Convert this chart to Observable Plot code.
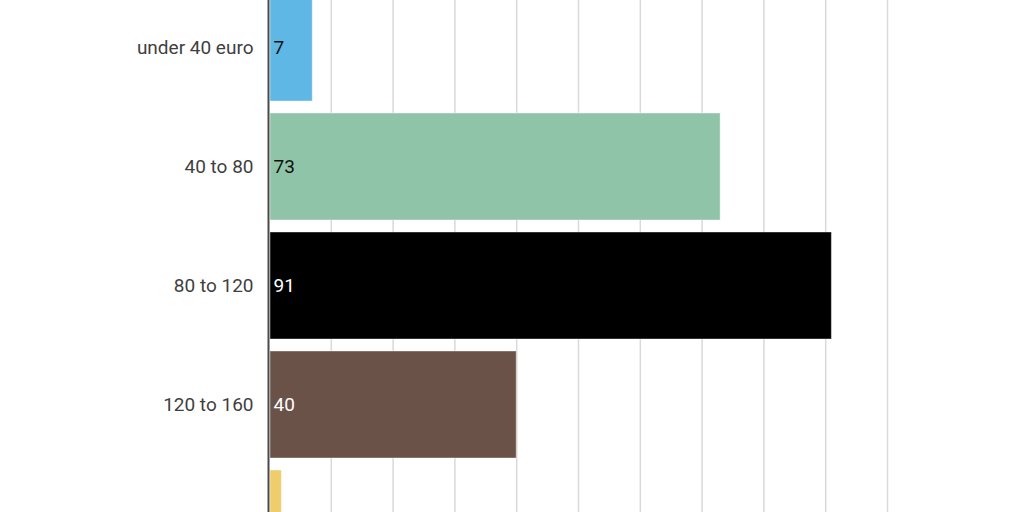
<!DOCTYPE html>
<html>
<head>
<meta charset="utf-8">
<script src="https://cdn.jsdelivr.net/npm/d3@7"></script>
<script src="https://cdn.jsdelivr.net/npm/@observablehq/plot@0.6"></script>
<style>
  html, body { margin: 0; padding: 0; background: #fff; }
  #chart svg { overflow: hidden; }
</style>
</head>
<body>
<div id="chart"></div>
<script>
const categories = ["under 40 euro", "40 to 80", "80 to 120", "120 to 160", "over 160"];
const values = [7, 73, 91, 40, 2];
const gridTicks = [10, 20, 30, 40, 50, 60, 70, 80, 90, 100];
const visibleTicks = ["under 40 euro", "40 to 80", "80 to 120", "120 to 160"];

const barColors = ["#5eb7e5", "#90c4a8", "#000000", "#6b5249", "#efcd6b"];
const labelColors = ["#111111", "#111111", "#ffffff", "#ffffff", "#111111"];

const data = categories.map((c, i) => ({category: c, value: values[i], idx: i}));

const chart = Plot.plot({
  width: 1024,
  height: 512,
  marginLeft: 269,
  marginRight: 137,
  marginTop: 0,
  marginBottom: 0,
  style: {fontFamily: "Roboto", background: "#fff"},
  x: {domain: [0, 100], axis: null},
  y: {domain: categories, range: [-20, 592], padding: 0.1, label: null},
  color: {domain: categories, range: barColors},
  marks: [
    Plot.gridX(gridTicks, {stroke: "#d9d9d9", strokeOpacity: 1, strokeWidth: 1.5}),
    Plot.barX(data, {
      x: "value", y: "category", fill: "category",
      stroke: "#ffffff", strokeOpacity: 0.4, strokeWidth: 1, insetLeft: 1
    }),
    Plot.ruleX([0], {stroke: "#4a4a4a", strokeWidth: 2, dx: -1}),
    Plot.axisY(visibleTicks, {tickSize: 0, tickPadding: 16, fontSize: 19, fill: "#3f3f3f", label: null}),
    Plot.text(data.filter(d => d.value >= 5), {
      x: 0, y: "category", text: d => String(d.value),
      textAnchor: "start", dx: 4, fontSize: 19,
      fill: d => labelColors[d.idx]
    })
  ]
});
document.getElementById("chart").appendChild(chart);
</script>
</body>
</html>
